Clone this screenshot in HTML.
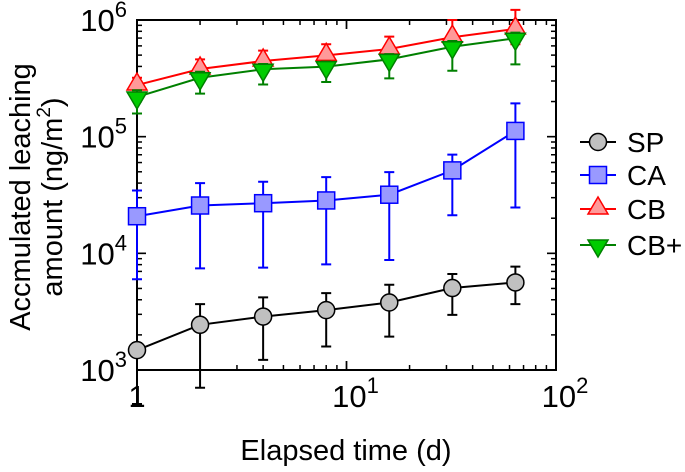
<!DOCTYPE html>
<html><head><meta charset="utf-8"><style>
html,body{margin:0;padding:0;background:#fff;}
svg{display:block;font-family:"Liberation Sans",Arial,sans-serif;}
</style></head><body>
<svg id="chart" width="685" height="472" viewBox="0 0 685 472">
<g id="axes"></g><g id="series"></g>
<text x="30" y="197" font-size="29" text-anchor="middle" transform="rotate(-90 30 197)">Accmulated leaching</text>
<text x="62" y="197" font-size="29" text-anchor="middle" transform="rotate(-90 62 197)">amount (ng/m<tspan font-size="19" dy="-12">2</tspan><tspan dy="12">)</tspan></text>
<text x="346" y="460" font-size="29" text-anchor="middle">Elapsed time (d)</text>
<g id="legend"></g>
</svg>
<script>
const days = [1, 2, 4, 8, 16, 32, 64];
const spVals = [1480, 2440, 2870, 3260, 3790, 5040, 5630];
const spHi = [1700, 3670, 4190, 4560, 5380, 6650, 7690];
const spLo = [511, 705, 1220, 1590, 1930, 2970, 3670];
const caVals = [20800, 25700, 26900, 28400, 31800, 51400, 112000];
const caHi = [34600, 40000, 41100, 45000, 49700, 70200, 193000];
const caLo = [6000, 7430, 7540, 8040, 8770, 21200, 24700];
const cbVals = [277000, 380000, 445000, 498000, 564000, 711000, 838000];
const cbHi = [320000, 460000, 546000, 620000, 720000, 1000000, 1220000];
const cbLo = [240000, 320000, 370000, 410000, 450000, 560000, 620000];
const cbpVals = [219000, 320000, 378000, 398000, 460000, 590000, 697000];
const cbpHi = [250000, 360000, 420000, 440000, 510000, 660000, 780000];
const cbpLo = [158000, 234000, 280000, 294000, 316000, 367000, 417000];
const xTicks = ["1", "10", "10"];
const xTickExp = ["", "1", "2"];
const yTickExp = ["3", "4", "5", "6"];

const L=137,R=556,T=20,B=370;
const xs=v=>L+(Math.log10(v)-0)/2*(R-L);
const ys=v=>B-(Math.log10(v)-3)/3*(B-T);
const NS="http://www.w3.org/2000/svg";
function mk(tag,attrs,parent){const e=document.createElementNS(NS,tag);for(const k in attrs)e.setAttribute(k,attrs[k]);parent.appendChild(e);return e;}
const axes=document.getElementById('axes');
const frame=mk('rect',{x:L,y:T,width:R-L,height:B-T,fill:'none',stroke:'#000','stroke-width':2},axes);


for(let d=0;d<2;d++){for(let m=1;m<=10;m++){const v=m*Math.pow(10,d);const x=xs(v);const len=(m==1||m==10)?9:5;
 const t1=mk('line',{x1:x,y1:B,x2:x,y2:B-len,stroke:'#000','stroke-width':1.5},axes);
 
 
 const t2=mk('line',{x1:x,y1:T,x2:x,y2:T+len,stroke:'#000','stroke-width':1.5},axes);
 
 }}
for(let d=0;d<3;d++){for(let m=1;m<=10;m++){const v=m*Math.pow(10,d+3);const y=ys(v);const len=(m==1||m==10)?9:5;
 const t1=mk('line',{x1:L,y1:y,x2:L+len,y2:y,stroke:'#000','stroke-width':1.5},axes);
 
 
 const t2=mk('line',{x1:R,y1:y,x2:R-len,y2:y,stroke:'#000','stroke-width':1.5},axes);
 
 }}
xTicks.forEach((s,i)=>{const x=xs(Math.pow(10,i));const t=mk('text',{x:x,y:407,'font-size':31,'text-anchor':'middle'},axes);
 
 
 t.textContent=s;if(xTickExp[i]){const sp=mk('tspan',{'font-size':22,dy:-14},t);sp.textContent=xTickExp[i];t.setAttribute('x',x+9);}});
yTickExp.forEach((s,i)=>{const y=ys(Math.pow(10,i+3));const t=mk('text',{x:127,y:y+11,'font-size':31,'text-anchor':'end'},axes);
 
 
 t.textContent='10';const sp=mk('tspan',{'font-size':22,dy:-14},t);sp.textContent=s;});
const ser=document.getElementById('series');
function marker(type,x,y,fill,stroke,parent){
 let e;
 if(type=='c')e=mk('circle',{cx:x,cy:y,r:8.5,fill:fill,stroke:stroke,'stroke-width':1.5},parent);
 else if(type=='s')e=mk('rect',{x:x-8.5,y:y-8.5,width:17,height:17,fill:fill,stroke:stroke,'stroke-width':1.5},parent);
 else if(type=='u')e=mk('polygon',{points:`${x},${y-12} ${x-10},${y+5} ${x+10},${y+5}`,fill:fill,stroke:stroke,'stroke-width':1.5},parent);
 else e=mk('polygon',{points:`${x},${y+12} ${x-10},${y-5} ${x+10},${y-5}`,fill:fill,stroke:stroke,'stroke-width':1.5},parent);
 return e;}
const defs=[
 {name:'sp',vals:spVals,hi:spHi,lo:spLo,type:'c',fill:'#c0c0c0',line:'#000',stroke:'#000'},
 {name:'ca',vals:caVals,hi:caHi,lo:caLo,type:'s',fill:'#9999ff',line:'#0000ff',stroke:'#0000ff'},
 {name:'cb',vals:cbVals,hi:cbHi,lo:cbLo,type:'u',fill:'#ff9999',line:'#ff0000',stroke:'#ff0000'},
 {name:'cbp',vals:cbpVals,hi:cbpHi,lo:cbpLo,type:'d',fill:'#00cc00',line:'#008000',stroke:'#008000'}];
defs.forEach(s=>{
 const g=mk('g',{},ser);
 
 
 days.forEach((d,i)=>{const x=xs(d);
  const e=mk('path',{d:`M${x},${ys(s.hi[i])}V${ys(s.lo[i])}M${x-5},${ys(s.hi[i])}H${x+5}M${x-5},${ys(s.lo[i])}H${x+5}`,stroke:s.line,'stroke-width':2,fill:'none'},g);
  
  });
 const pl=mk('polyline',{points:days.map((d,i)=>xs(d)+','+ys(s.vals[i])).join(' '),fill:'none',stroke:s.line,'stroke-width':2},g);
 
 
 days.forEach((d,i)=>{const m=marker(s.type,xs(d),ys(s.vals[i]),s.fill,s.stroke,g);
  
  });
});
const lg=document.getElementById('legend');
const labels=['SP','CA','CB','CB+'];const ly=[142,175,209,245];
defs.forEach((s,i)=>{const g=mk('g',{},lg);
 
 
 mk('line',{x1:580,y1:ly[i],x2:616,y2:ly[i],stroke:s.line,'stroke-width':2},g);
 marker(s.type,598,ly[i],s.fill,s.stroke,g);
 const t=mk('text',{x:627,y:ly[i]+10,'font-size':28},g);t.textContent=labels[i];});
</script>
</body></html>
